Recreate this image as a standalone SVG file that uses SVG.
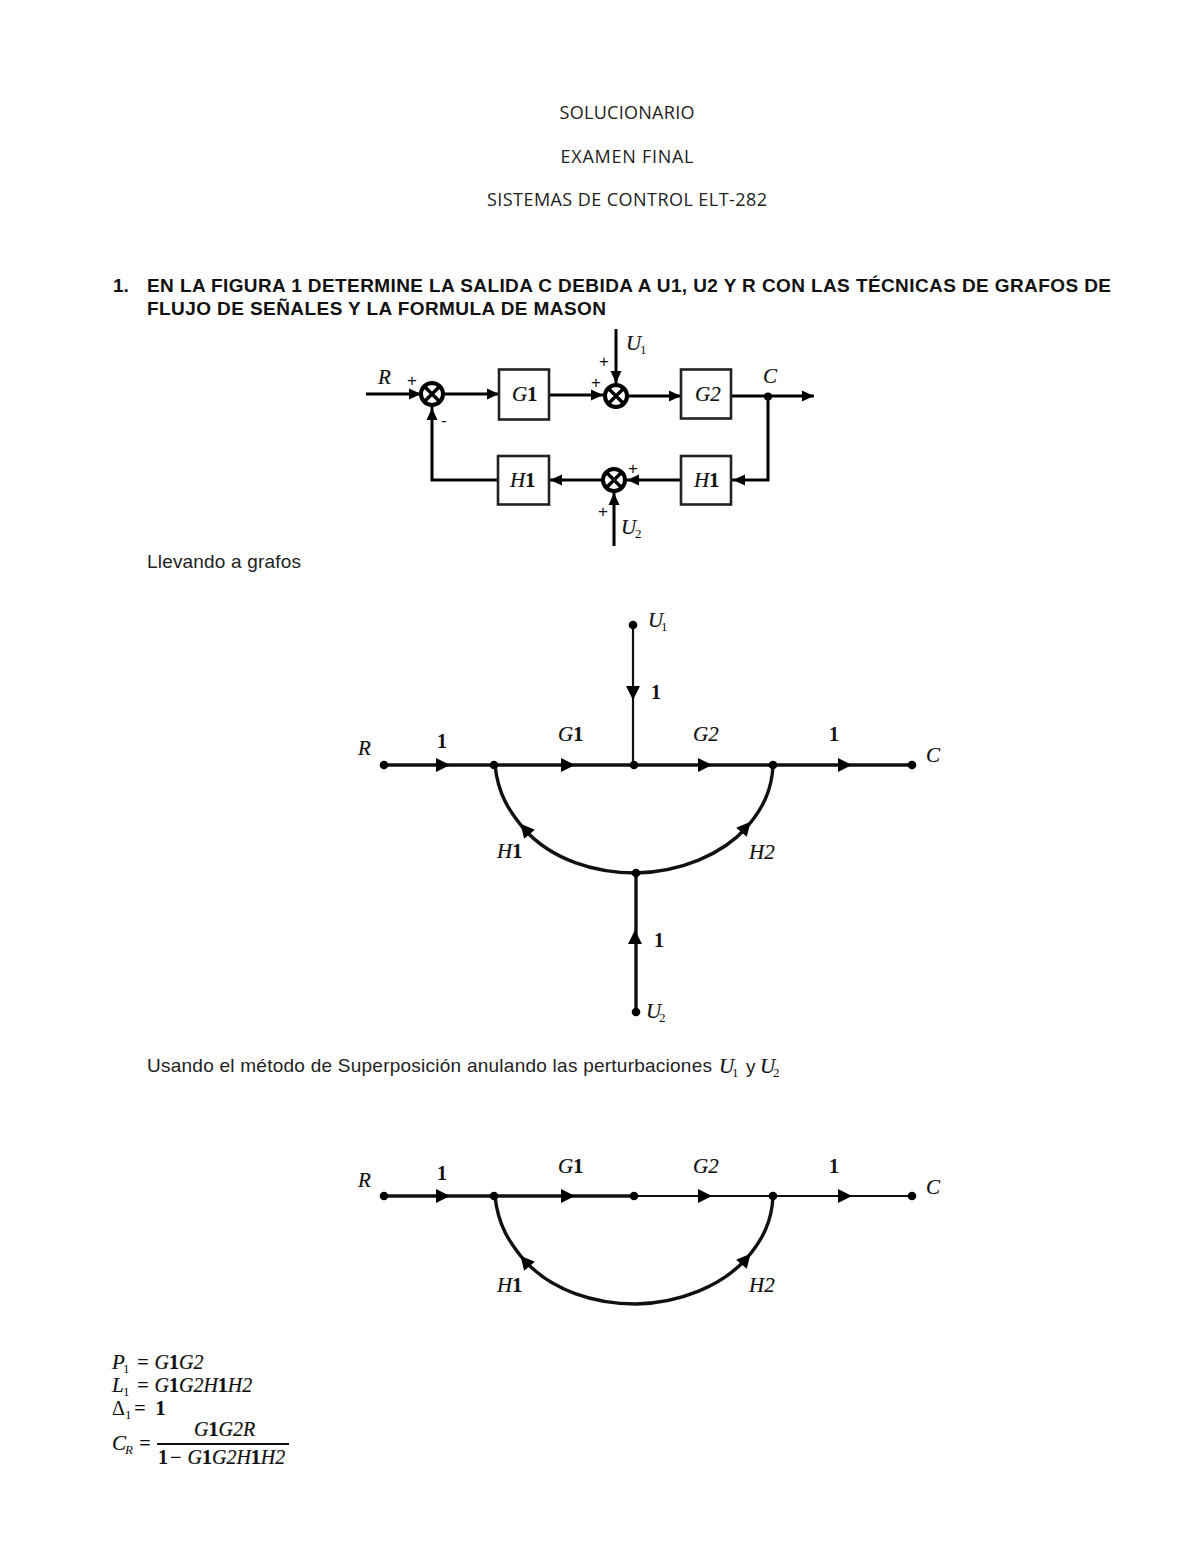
<svg xmlns="http://www.w3.org/2000/svg" xmlns:xlink="http://www.w3.org/1999/xlink" width="1200" height="1552" viewBox="0 0 1200 1552">
<style>
.h{font:18px "Open Sans","Liberation Sans",sans-serif;fill:#222;text-anchor:middle}
.q{font:bold 19px "Liberation Sans",sans-serif;fill:#111}
.b{font:19px "Liberation Sans",sans-serif;fill:#222}
.m{font:italic 21px "Liberation Serif",serif;fill:#111;stroke:#111;stroke-width:.2}
.e{font:italic 20px "Liberation Serif",serif;fill:#111;stroke:#111;stroke-width:.2}
.r{font:20px "Liberation Serif",serif;fill:#111}
.s{font:13px "Liberation Serif",serif;fill:#111}
.si{font:italic 13px "Liberation Serif",serif;fill:#111}
.d{font:bold 20px "Liberation Serif",serif;fill:#111}
.p{font:17px "Liberation Sans",sans-serif;fill:#111}
.w{fill:none;stroke:#000;stroke-width:3}
.t{fill:none;stroke:#111;stroke-width:3.4}
.n{fill:none;stroke:#111;stroke-width:2.2}
.box{fill:#fff;stroke:#222;stroke-width:2.6}
.sum{fill:#fff;stroke:#000;stroke-width:4}
.x{stroke:#000;stroke-width:3.4}
</style>
<defs>
<polygon id="a" points="-6,-5.500 6,0 -6,5.500" fill="#000"/>
<polygon id="g" points="-7,-7 7,0 -7,7" fill="#000"/>
<circle id="o" r="4.300" fill="#000"/>
<g id="X"><circle class="sum" r="11"/><path class="x" d="M-8.500 -8.500L8.500 8.500M8.500 -8.500L-8.500 8.500"/></g>
</defs>

<g id="title">
<text class="h" x="627" y="119" textLength="135">SOLUCIONARIO</text>
<text class="h" x="627" y="163" textLength="133">EXAMEN FINAL</text>
<text class="h" x="627" y="206" textLength="280">SISTEMAS DE CONTROL ELT-282</text>
</g>
<g id="question">
<text class="q" x="113" y="292">1.</text>
<text class="q" x="147" y="292" textLength="964">EN LA FIGURA 1 DETERMINE LA SALIDA C DEBIDA A U1, U2 Y R CON LAS TÉCNICAS DE GRAFOS DE</text>
<text class="q" x="147" y="315" textLength="459">FLUJO DE SEÑALES Y LA FORMULA DE MASON</text>
</g>

<g id="block-connectors">
<path class="w" d="M366 394H421M443 394H499M549 395H605M627 396H681M731 396H814M768 396V480H731M681 480H625M603 480H549M498 480H432V407M616 329V385M614 546V491"/>
<use xlink:href="#a" href="#a" transform="translate(415,394)"/>
<use xlink:href="#a" href="#a" transform="translate(493,394)"/>
<use xlink:href="#a" href="#a" transform="translate(597,395)"/>
<use xlink:href="#a" href="#a" transform="translate(675,396)"/>
<use xlink:href="#a" href="#a" transform="translate(808,396)"/>
<use xlink:href="#a" href="#a" transform="translate(739,480) rotate(180)"/>
<use xlink:href="#a" href="#a" transform="translate(633,480) rotate(180)"/>
<use xlink:href="#a" href="#a" transform="translate(556,480) rotate(180)"/>
<use xlink:href="#a" href="#a" transform="translate(432,414) rotate(-90)"/>
<use xlink:href="#a" href="#a" transform="translate(616,377) rotate(90)"/>
<use xlink:href="#a" href="#a" transform="translate(614,499) rotate(-90)"/>
<circle r="4" cx="768" cy="396.500" fill="#000"/>
</g>
<g id="sum1"><use xlink:href="#X" href="#X" transform="translate(432,394)"/></g>
<g id="sum2"><use xlink:href="#X" href="#X" transform="translate(616,396)"/></g>
<g id="sum3"><use xlink:href="#X" href="#X" transform="translate(614,480)"/></g>
<g id="box-g1"><rect class="box" x="499" y="369.500" width="50" height="50"/><text class="m" x="512" y="401">G<tspan class="d">1</tspan></text></g>
<g id="box-g2"><rect class="box" x="681" y="369.500" width="50" height="49"/><text class="m" x="695" y="401">G2</text></g>
<g id="box-h1l"><rect class="box" x="498" y="456" width="51" height="48.500"/><text class="m" x="510" y="487">H<tspan class="d">1</tspan></text></g>
<g id="box-h1r"><rect class="box" x="681" y="456" width="50" height="48.500"/><text class="m" x="694" y="487">H<tspan class="d">1</tspan></text></g>
<g id="block-labels">
<text class="m" x="378" y="384">R</text>
<text class="m" x="763" y="383">C</text>
<text class="m" x="626" y="350">U</text><text class="s" x="640" y="354">1</text>
<text class="m" x="621" y="534">U</text><text class="s" x="635" y="538">2</text>
<text class="p" x="407" y="386">+</text>
<text class="p" x="599" y="367">+</text>
<text class="p" x="591" y="388">+</text>
<text class="p" x="628" y="474">+</text>
<text class="p" x="598" y="517">+</text>
<text class="p" x="441" y="426">-</text>
</g>

<text class="b" x="147" y="568" textLength="154">Llevando a grafos</text>

<g id="graph1-connectors">
<path class="t" d="M384 765H912"/>
<path class="n" d="M633 625V765"/>
<path class="t" d="M636 873V1012"/>
<path class="t" d="M495 765C498 795 510 812 524 829C552 860 595 873 636 873C680 872 722 855 747 827C763 808 772 790 773 765"/>
<use xlink:href="#g" href="#g" transform="translate(443,765)"/>
<use xlink:href="#g" href="#g" transform="translate(568,765)"/>
<use xlink:href="#g" href="#g" transform="translate(705,765)"/>
<use xlink:href="#g" href="#g" transform="translate(845,765)"/>
<use xlink:href="#g" href="#g" transform="translate(633,693) rotate(90)"/>
<use xlink:href="#g" href="#g" transform="translate(635,937) rotate(-90)"/>
<use xlink:href="#g" href="#g" transform="translate(525,829) rotate(-130)"/>
<use xlink:href="#g" href="#g" transform="translate(746,827) rotate(-50)"/>
</g>
<g id="graph1-nodes">
<use id="g1-r" xlink:href="#o" href="#o" x="384" y="765"/>
<use id="g1-a" xlink:href="#o" href="#o" x="494" y="765"/>
<use id="g1-b" xlink:href="#o" href="#o" x="634" y="765"/>
<use id="g1-c" xlink:href="#o" href="#o" x="773" y="765"/>
<use id="g1-d" xlink:href="#o" href="#o" x="912" y="765"/>
<use id="g1-u1" xlink:href="#o" href="#o" x="633" y="625"/>
<use id="g1-e" xlink:href="#o" href="#o" x="636" y="873"/>
<use id="g1-u2" xlink:href="#o" href="#o" x="636" y="1012"/>
</g>
<g id="graph1-labels">
<text class="m" x="358" y="755">R</text>
<text class="d" x="437" y="748">1</text>
<text class="m" x="558" y="741">G<tspan class="d">1</tspan></text>
<text class="m" x="693" y="741">G2</text>
<text class="d" x="829" y="741">1</text>
<text class="m" x="926" y="762">C</text>
<text class="m" x="648" y="627">U</text><text class="s" x="661" y="631">1</text>
<text class="d" x="651" y="699">1</text>
<text class="m" x="497" y="858">H<tspan class="d">1</tspan></text>
<text class="m" x="749" y="859">H2</text>
<text class="d" x="654" y="947">1</text>
<text class="m" x="646" y="1018">U</text><text class="s" x="659" y="1022">2</text>
</g>

<g id="sentence">
<text class="b" x="147" y="1072" textLength="565">Usando el método de Superposición anulando las perturbaciones</text>
<text class="m" x="719" y="1073">U</text><text class="s" x="732" y="1077">1</text>
<text class="b" x="746" y="1073">y</text>
<text class="m" x="760" y="1073">U</text><text class="s" x="773" y="1077">2</text>
</g>

<g id="graph2-connectors">
<path class="t" d="M384 1196H634"/>
<path class="n" d="M634 1196H912"/>
<path class="t" d="M495 1196C498 1226 510 1243 524 1260C552 1291 595 1304 636 1304C680 1303 722 1286 747 1258C763 1239 772 1221 773 1196"/>
<use xlink:href="#g" href="#g" transform="translate(443,1196)"/>
<use xlink:href="#g" href="#g" transform="translate(568,1196)"/>
<use xlink:href="#g" href="#g" transform="translate(705,1196)"/>
<use xlink:href="#g" href="#g" transform="translate(845,1196)"/>
<use xlink:href="#g" href="#g" transform="translate(525,1261) rotate(-130)"/>
<use xlink:href="#g" href="#g" transform="translate(746,1259) rotate(-50)"/>
</g>
<g id="graph2-nodes">
<use id="g2-r" xlink:href="#o" href="#o" x="384" y="1196"/>
<use id="g2-a" xlink:href="#o" href="#o" x="494" y="1196"/>
<use id="g2-b" xlink:href="#o" href="#o" x="634" y="1196"/>
<use id="g2-c" xlink:href="#o" href="#o" x="773" y="1196"/>
<use id="g2-d" xlink:href="#o" href="#o" x="912" y="1196"/>
</g>
<g id="graph2-labels">
<text class="m" x="358" y="1187">R</text>
<text class="d" x="437" y="1180">1</text>
<text class="m" x="558" y="1173">G<tspan class="d">1</tspan></text>
<text class="m" x="693" y="1173">G2</text>
<text class="d" x="829" y="1173">1</text>
<text class="m" x="926" y="1194">C</text>
<text class="m" x="497" y="1292">H<tspan class="d">1</tspan></text>
<text class="m" x="749" y="1292">H2</text>
</g>

<g id="equations">
<text class="m" x="112" y="1369">P</text><text class="s" x="123" y="1373">1</text>
<text class="e" x="136" y="1369">= G<tspan class="d">1</tspan>G2</text>
<text class="m" x="112" y="1392">L</text><text class="s" x="123" y="1396">1</text>
<text class="e" x="136" y="1392">= G<tspan class="d">1</tspan>G2H<tspan class="d">1</tspan>H2</text>
<text class="r" x="112" y="1415">Δ</text><text class="s" x="125" y="1419">1</text>
<text class="e" x="133" y="1415">= <tspan class="d" dx="4">1</tspan></text>
<text class="m" x="112" y="1450">C</text><text class="si" x="125" y="1454">R</text>
<text class="e" x="138" y="1450">=</text>
<text class="e" x="194" y="1436">G<tspan class="d">1</tspan>G2R</text>
<path d="M157 1444H289" stroke="#111" stroke-width="2"/>
<text class="d" x="158" y="1464">1</text>
<text class="e" x="169" y="1464">− G<tspan class="d">1</tspan>G2H<tspan class="d">1</tspan>H2</text>
</g>
</svg>
